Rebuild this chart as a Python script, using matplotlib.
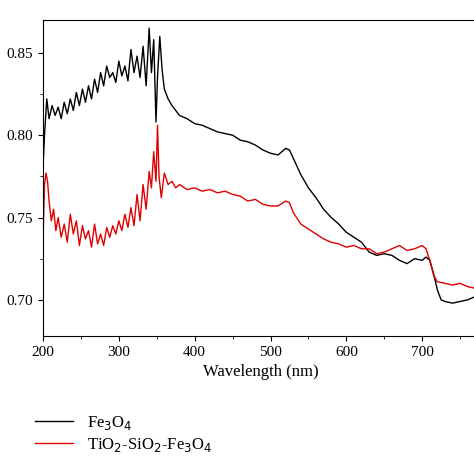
import matplotlib
matplotlib.use("Agg")
import matplotlib.pyplot as plt
from matplotlib.ticker import MultipleLocator

plt.rcParams['font.family'] = ['Liberation Serif', 'DejaVu Serif']

wl_black = [200, 202, 205, 208, 212, 216, 220, 224, 228, 232, 236, 240, 244, 248, 252, 256, 260, 264, 268, 272,
            276, 280, 284, 288, 292, 296, 300, 304, 308, 312, 316, 320, 324, 328, 332, 336, 340, 343, 346, 349,
            351, 354, 357, 360, 365, 370, 375, 380, 390, 400, 410, 420, 430, 440, 450, 460, 470, 480, 490, 500,
            510, 520, 525, 530, 540, 550, 560, 570, 580, 590, 600, 610, 620, 630, 640, 650, 660, 670, 680, 690,
            700, 705, 710, 715, 720, 725, 730, 740, 750, 760, 770, 775]
fe3o4 = [0.780, 0.800, 0.822, 0.810, 0.818, 0.812, 0.817, 0.810, 0.820, 0.813, 0.822, 0.815, 0.826, 0.818, 0.828, 0.820,
         0.830, 0.822, 0.834, 0.826, 0.838, 0.830, 0.842, 0.835, 0.838, 0.832, 0.845, 0.836, 0.842, 0.833, 0.852, 0.838,
         0.848, 0.835, 0.854, 0.830, 0.865, 0.838, 0.858, 0.808, 0.835, 0.860, 0.840, 0.828, 0.822, 0.818, 0.815, 0.812,
         0.810, 0.807, 0.806, 0.804, 0.802, 0.801, 0.800, 0.797, 0.796, 0.794, 0.791, 0.789, 0.788, 0.792, 0.791, 0.786,
         0.776, 0.768, 0.762, 0.755, 0.750, 0.746, 0.741, 0.738, 0.735, 0.729, 0.727, 0.728, 0.727, 0.724, 0.722, 0.725,
         0.724, 0.726, 0.724, 0.716, 0.706, 0.700, 0.699, 0.698, 0.699, 0.700, 0.702, 0.700]

wl_red = [200, 202, 204, 206, 208, 211, 214, 217, 220, 224, 228, 232, 236, 240, 244, 248, 252, 256, 260, 264,
          268, 272, 276, 280, 284, 288, 292, 296, 300, 304, 308, 312, 316, 320, 324, 328, 332, 336, 340, 343,
          346, 349, 351, 353, 356, 360, 365, 370, 375, 380, 390, 400, 410, 420, 430, 440, 450, 460, 470, 480,
          490, 500, 510, 520, 525, 530, 540, 550, 560, 570, 580, 590, 600, 610, 620, 630, 640, 650, 660, 670,
          680, 690, 700, 705, 710, 715, 720, 730, 740, 750, 760, 770, 775]
tio2_sio2_fe3o4 = [0.735, 0.770, 0.777, 0.772, 0.760, 0.748, 0.755, 0.742, 0.750, 0.738, 0.746, 0.735, 0.752, 0.740, 0.748, 0.733,
                   0.745, 0.737, 0.742, 0.732, 0.746, 0.734, 0.740, 0.733, 0.744, 0.738, 0.745, 0.740, 0.748, 0.742, 0.752, 0.744,
                   0.756, 0.745, 0.764, 0.748, 0.770, 0.755, 0.778, 0.768, 0.790, 0.772, 0.806, 0.775, 0.762, 0.777, 0.770, 0.772,
                   0.768, 0.770, 0.767, 0.768, 0.766, 0.767, 0.765, 0.766, 0.764, 0.763, 0.760, 0.761, 0.758, 0.757, 0.757, 0.760,
                   0.759, 0.753, 0.746, 0.743, 0.740, 0.737, 0.735, 0.734, 0.732, 0.733, 0.731, 0.731, 0.728, 0.729, 0.731, 0.733,
                   0.730, 0.731, 0.733, 0.731, 0.724, 0.715, 0.711, 0.710, 0.709, 0.710, 0.708, 0.707, 0.706]

fig = plt.figure(figsize=(4.74, 4.74), dpi=100)
ax = fig.add_axes([0.0907, 0.291, 0.92, 0.667])
l1, = ax.plot(wl_black, fe3o4, color='black', lw=1.0)
l2, = ax.plot(wl_red, tio2_sio2_fe3o4, color='#e00000', lw=1.0)
ax.set_xlim(200, 775)
ax.set_ylim(0.678, 0.870)
ax.xaxis.set_major_locator(MultipleLocator(100))
ax.xaxis.set_minor_locator(MultipleLocator(50))
ax.yaxis.set_major_locator(MultipleLocator(0.05))
ax.yaxis.set_minor_locator(MultipleLocator(0.025))
ax.yaxis.set_major_formatter(plt.FormatStrFormatter('%.2f'))
ax.tick_params(labelsize=11)
ax.set_xlabel('Wavelength (nm)', fontsize=12)
ax.spines['right'].set_visible(False)
fig.legend([l1, l2], ['Fe$_3$O$_4$', 'TiO$_2$-SiO$_2$-Fe$_3$O$_4$'], loc='upper left',
           bbox_to_anchor=(0.06, 0.14), frameon=False, fontsize=12, handlelength=2.3,
           labelspacing=0.2, borderaxespad=0)
fig.savefig('out.png', dpi=100)
